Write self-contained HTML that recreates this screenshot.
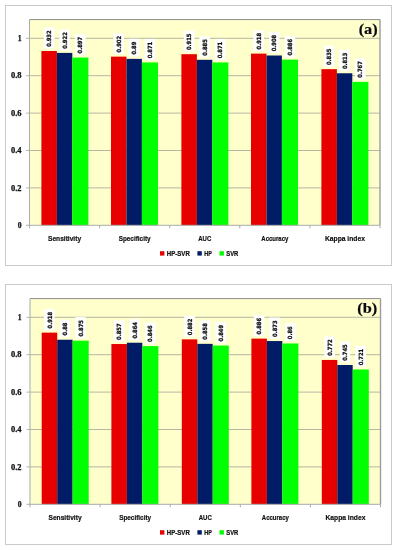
<!DOCTYPE html>
<html><head><meta charset="utf-8"><title>Chart</title>
<style>
html,body{margin:0;padding:0;background:#fff;width:397px;height:550px;overflow:hidden}
svg{display:block}
text{font-family:"Liberation Sans",Arial,sans-serif;font-weight:bold;fill:#111111}
.yl{font-family:"Liberation Serif",serif;font-size:7.7px;text-anchor:end;stroke:#111111;stroke-width:0.25px}
.xl{font-size:7.6px;text-anchor:middle;stroke:#111111;stroke-width:0.2px}
.lg{font-size:6.5px;stroke:#111111;stroke-width:0.22px}
.dl{font-family:"DejaVu Sans",sans-serif;font-stretch:condensed;font-size:5.8px;text-anchor:middle;stroke:#111111;stroke-width:0.28px}
.tag{font-family:"Liberation Serif","Times New Roman",serif;font-size:15px;fill:#0a0a14;stroke:#0a0a14;stroke-width:0.2px}
</style></head><body>
<svg width="397" height="550" viewBox="0 0 397 550">
<rect width="397" height="550" fill="#fff"/>
<rect x="5.5" y="5.5" width="386" height="260" fill="#fff" stroke="#cacaca" stroke-width="1"/>
<g transform="translate(0,0)">
<rect x="29.5" y="19.60" width="350.5" height="205.70" fill="#ffffcc"/>
<line x1="26" y1="187.90" x2="380.0" y2="187.90" stroke="#9a9a96" stroke-width="1" stroke-opacity="0.72"/>
<line x1="26" y1="150.50" x2="380.0" y2="150.50" stroke="#9a9a96" stroke-width="1" stroke-opacity="0.72"/>
<line x1="26" y1="113.10" x2="380.0" y2="113.10" stroke="#9a9a96" stroke-width="1" stroke-opacity="0.72"/>
<line x1="26" y1="75.70" x2="380.0" y2="75.70" stroke="#9a9a96" stroke-width="1" stroke-opacity="0.72"/>
<line x1="26" y1="38.30" x2="380.0" y2="38.30" stroke="#9a9a96" stroke-width="1" stroke-opacity="0.72"/>
<text x="21.60" y="228.00" class="yl">0</text>
<text x="21.60" y="190.60" class="yl" textLength="10.6" lengthAdjust="spacingAndGlyphs">0.2</text>
<text x="21.60" y="153.20" class="yl" textLength="10.6" lengthAdjust="spacingAndGlyphs">0.4</text>
<text x="21.60" y="115.80" class="yl" textLength="10.6" lengthAdjust="spacingAndGlyphs">0.6</text>
<text x="21.60" y="78.40" class="yl" textLength="10.6" lengthAdjust="spacingAndGlyphs">0.8</text>
<text x="21.60" y="41.00" class="yl">1</text>
<rect x="41.40" y="51.02" width="15.50" height="174.28" fill="#e60000"/>
<rect x="56.90" y="52.89" width="15.40" height="172.41" fill="#001c66"/>
<rect x="72.30" y="57.56" width="16.10" height="167.74" fill="#00ff00"/>
<rect x="111.00" y="56.63" width="15.50" height="168.67" fill="#e60000"/>
<rect x="126.50" y="58.87" width="15.40" height="166.43" fill="#001c66"/>
<rect x="141.90" y="62.42" width="16.10" height="162.88" fill="#00ff00"/>
<rect x="181.40" y="54.19" width="15.50" height="171.11" fill="#e60000"/>
<rect x="196.90" y="59.81" width="15.40" height="165.50" fill="#001c66"/>
<rect x="212.30" y="62.42" width="16.10" height="162.88" fill="#00ff00"/>
<rect x="251.00" y="53.63" width="15.50" height="171.67" fill="#e60000"/>
<rect x="266.50" y="55.50" width="15.40" height="169.80" fill="#001c66"/>
<rect x="281.90" y="59.62" width="16.10" height="165.68" fill="#00ff00"/>
<rect x="321.40" y="69.16" width="15.50" height="156.14" fill="#e60000"/>
<rect x="336.90" y="73.27" width="15.40" height="152.03" fill="#001c66"/>
<rect x="352.30" y="81.87" width="16.10" height="143.43" fill="#00ff00"/>
<rect x="43.85" y="27.52" width="10.6" height="21.00" fill="#fff"/>
<text transform="translate(51.25,38.62) rotate(-90)" class="dl">0.932</text>
<rect x="59.30" y="29.39" width="10.6" height="21.00" fill="#fff"/>
<text transform="translate(66.70,40.49) rotate(-90)" class="dl">0.922</text>
<rect x="75.05" y="34.06" width="10.6" height="21.00" fill="#fff"/>
<text transform="translate(82.45,45.16) rotate(-90)" class="dl">0.897</text>
<rect x="113.45" y="33.13" width="10.6" height="21.00" fill="#fff"/>
<text transform="translate(120.85,44.23) rotate(-90)" class="dl">0.902</text>
<rect x="128.90" y="38.77" width="10.6" height="17.60" fill="#fff"/>
<text transform="translate(136.30,48.17) rotate(-90)" class="dl">0.89</text>
<rect x="144.65" y="38.92" width="10.6" height="21.00" fill="#fff"/>
<text transform="translate(152.05,50.02) rotate(-90)" class="dl">0.871</text>
<rect x="183.85" y="30.69" width="10.6" height="21.00" fill="#fff"/>
<text transform="translate(191.25,41.79) rotate(-90)" class="dl">0.915</text>
<rect x="199.30" y="36.31" width="10.6" height="21.00" fill="#fff"/>
<text transform="translate(206.70,47.41) rotate(-90)" class="dl">0.885</text>
<rect x="215.05" y="38.92" width="10.6" height="21.00" fill="#fff"/>
<text transform="translate(222.45,50.02) rotate(-90)" class="dl">0.871</text>
<rect x="253.45" y="30.13" width="10.6" height="21.00" fill="#fff"/>
<text transform="translate(260.85,41.23) rotate(-90)" class="dl">0.918</text>
<rect x="268.90" y="32.00" width="10.6" height="21.00" fill="#fff"/>
<text transform="translate(276.30,43.10) rotate(-90)" class="dl">0.908</text>
<rect x="284.65" y="36.12" width="10.6" height="21.00" fill="#fff"/>
<text transform="translate(292.05,47.22) rotate(-90)" class="dl">0.886</text>
<rect x="323.85" y="45.66" width="10.6" height="21.00" fill="#fff"/>
<text transform="translate(331.25,56.76) rotate(-90)" class="dl">0.835</text>
<rect x="339.30" y="49.77" width="10.6" height="21.00" fill="#fff"/>
<text transform="translate(346.70,60.87) rotate(-90)" class="dl">0.813</text>
<rect x="355.05" y="58.37" width="10.6" height="21.00" fill="#fff"/>
<text transform="translate(362.45,69.47) rotate(-90)" class="dl">0.767</text>
<line x1="29.5" y1="19.60" x2="380.0" y2="19.60" stroke="#8c8c8c" stroke-width="1"/>
<line x1="380.00" y1="19.60" x2="380.00" y2="225.30" stroke="#9c9c9c" stroke-width="1.4"/>
<line x1="29.5" y1="19.60" x2="29.5" y2="225.80" stroke="#aaaaaa" stroke-width="1"/>
<line x1="26" y1="225.30" x2="380.0" y2="225.30" stroke="#aaaaaa" stroke-width="1"/>
<line x1="29.50" y1="225.30" x2="29.50" y2="228.30" stroke="#aaaaaa" stroke-width="1"/>
<line x1="99.60" y1="225.30" x2="99.60" y2="228.30" stroke="#aaaaaa" stroke-width="1"/>
<line x1="169.70" y1="225.30" x2="169.70" y2="228.30" stroke="#aaaaaa" stroke-width="1"/>
<line x1="239.80" y1="225.30" x2="239.80" y2="228.30" stroke="#aaaaaa" stroke-width="1"/>
<line x1="309.90" y1="225.30" x2="309.90" y2="228.30" stroke="#aaaaaa" stroke-width="1"/>
<line x1="380.00" y1="225.30" x2="380.00" y2="228.30" stroke="#aaaaaa" stroke-width="1"/>
<text x="64.55" y="240.60" class="xl" textLength="33.0" lengthAdjust="spacingAndGlyphs">Sensitivity</text>
<text x="134.65" y="240.60" class="xl" textLength="32.0" lengthAdjust="spacingAndGlyphs">Specificity</text>
<text x="204.75" y="240.60" class="xl" textLength="13.0" lengthAdjust="spacingAndGlyphs">AUC</text>
<text x="274.85" y="240.60" class="xl" textLength="27.0" lengthAdjust="spacingAndGlyphs">Accuracy</text>
<text x="344.95" y="240.60" class="xl" textLength="40.0" lengthAdjust="spacingAndGlyphs">Kappa index</text>
<rect x="160.00" y="251.20" width="4.4" height="4.4" fill="#e60000"/>
<text x="166.80" y="255.55" class="lg" textLength="23.0" lengthAdjust="spacingAndGlyphs">HP-SVR</text>
<rect x="197.40" y="251.20" width="4.4" height="4.4" fill="#001c66"/>
<text x="204.20" y="255.55" class="lg" textLength="7.6" lengthAdjust="spacingAndGlyphs">HP</text>
<rect x="219.50" y="251.20" width="4.4" height="4.4" fill="#00ff00"/>
<text x="226.30" y="255.55" class="lg" textLength="12.0" lengthAdjust="spacingAndGlyphs">SVR</text>
</g>
<text x="358.7" y="33.80" class="tag" textLength="19.0" lengthAdjust="spacingAndGlyphs">(a)</text>
<rect x="5.5" y="284.5" width="386" height="260" fill="#fff" stroke="#cacaca" stroke-width="1"/>
<g transform="translate(0.5,0)">
<rect x="29.5" y="298.60" width="350.5" height="205.70" fill="#ffffcc"/>
<line x1="26" y1="466.90" x2="380.0" y2="466.90" stroke="#9a9a96" stroke-width="1" stroke-opacity="0.72"/>
<line x1="26" y1="429.50" x2="380.0" y2="429.50" stroke="#9a9a96" stroke-width="1" stroke-opacity="0.72"/>
<line x1="26" y1="392.10" x2="380.0" y2="392.10" stroke="#9a9a96" stroke-width="1" stroke-opacity="0.72"/>
<line x1="26" y1="354.70" x2="380.0" y2="354.70" stroke="#9a9a96" stroke-width="1" stroke-opacity="0.72"/>
<line x1="26" y1="317.30" x2="380.0" y2="317.30" stroke="#9a9a96" stroke-width="1" stroke-opacity="0.72"/>
<text x="21.10" y="507.00" class="yl">0</text>
<text x="21.10" y="469.60" class="yl" textLength="10.6" lengthAdjust="spacingAndGlyphs">0.2</text>
<text x="21.10" y="432.20" class="yl" textLength="10.6" lengthAdjust="spacingAndGlyphs">0.4</text>
<text x="21.10" y="394.80" class="yl" textLength="10.6" lengthAdjust="spacingAndGlyphs">0.6</text>
<text x="21.10" y="357.40" class="yl" textLength="10.6" lengthAdjust="spacingAndGlyphs">0.8</text>
<text x="21.10" y="320.00" class="yl">1</text>
<rect x="41.20" y="332.63" width="15.50" height="171.67" fill="#e60000"/>
<rect x="56.70" y="339.74" width="15.40" height="164.56" fill="#001c66"/>
<rect x="72.10" y="340.68" width="16.10" height="163.62" fill="#00ff00"/>
<rect x="110.90" y="344.04" width="15.50" height="160.26" fill="#e60000"/>
<rect x="126.40" y="342.73" width="15.40" height="161.57" fill="#001c66"/>
<rect x="141.80" y="346.10" width="16.10" height="158.20" fill="#00ff00"/>
<rect x="181.30" y="339.37" width="15.50" height="164.93" fill="#e60000"/>
<rect x="196.80" y="343.85" width="15.40" height="160.45" fill="#001c66"/>
<rect x="212.20" y="345.54" width="16.10" height="158.76" fill="#00ff00"/>
<rect x="250.90" y="338.62" width="15.50" height="165.68" fill="#e60000"/>
<rect x="266.40" y="341.05" width="15.40" height="163.25" fill="#001c66"/>
<rect x="281.80" y="343.48" width="16.10" height="160.82" fill="#00ff00"/>
<rect x="321.30" y="359.94" width="15.50" height="144.36" fill="#e60000"/>
<rect x="336.80" y="364.99" width="15.40" height="139.31" fill="#001c66"/>
<rect x="352.20" y="369.47" width="16.10" height="134.83" fill="#00ff00"/>
<rect x="43.65" y="309.13" width="10.6" height="21.00" fill="#fff"/>
<text transform="translate(51.05,320.23) rotate(-90)" class="dl">0.918</text>
<rect x="59.10" y="319.64" width="10.6" height="17.60" fill="#fff"/>
<text transform="translate(66.50,329.04) rotate(-90)" class="dl">0.88</text>
<rect x="74.85" y="317.18" width="10.6" height="21.00" fill="#fff"/>
<text transform="translate(82.25,328.28) rotate(-90)" class="dl">0.875</text>
<rect x="113.35" y="320.54" width="10.6" height="21.00" fill="#fff"/>
<text transform="translate(120.75,331.64) rotate(-90)" class="dl">0.857</text>
<rect x="128.80" y="319.23" width="10.6" height="21.00" fill="#fff"/>
<text transform="translate(136.20,330.33) rotate(-90)" class="dl">0.864</text>
<rect x="144.55" y="322.60" width="10.6" height="21.00" fill="#fff"/>
<text transform="translate(151.95,333.70) rotate(-90)" class="dl">0.846</text>
<rect x="183.75" y="315.87" width="10.6" height="21.00" fill="#fff"/>
<text transform="translate(191.15,326.97) rotate(-90)" class="dl">0.882</text>
<rect x="199.20" y="320.35" width="10.6" height="21.00" fill="#fff"/>
<text transform="translate(206.60,331.45) rotate(-90)" class="dl">0.858</text>
<rect x="214.95" y="322.04" width="10.6" height="21.00" fill="#fff"/>
<text transform="translate(222.35,333.14) rotate(-90)" class="dl">0.849</text>
<rect x="253.35" y="315.12" width="10.6" height="21.00" fill="#fff"/>
<text transform="translate(260.75,326.22) rotate(-90)" class="dl">0.886</text>
<rect x="268.80" y="317.55" width="10.6" height="21.00" fill="#fff"/>
<text transform="translate(276.20,328.65) rotate(-90)" class="dl">0.873</text>
<rect x="284.55" y="323.38" width="10.6" height="17.60" fill="#fff"/>
<text transform="translate(291.95,332.78) rotate(-90)" class="dl">0.86</text>
<rect x="323.75" y="336.44" width="10.6" height="21.00" fill="#fff"/>
<text transform="translate(331.15,347.54) rotate(-90)" class="dl">0.772</text>
<rect x="339.20" y="341.49" width="10.6" height="21.00" fill="#fff"/>
<text transform="translate(346.60,352.59) rotate(-90)" class="dl">0.745</text>
<rect x="354.95" y="345.97" width="10.6" height="21.00" fill="#fff"/>
<text transform="translate(362.35,357.07) rotate(-90)" class="dl">0.721</text>
<line x1="29.5" y1="298.60" x2="380.0" y2="298.60" stroke="#8c8c8c" stroke-width="1"/>
<line x1="380.00" y1="298.60" x2="380.00" y2="504.30" stroke="#9c9c9c" stroke-width="1.4"/>
<line x1="29.5" y1="298.60" x2="29.5" y2="504.80" stroke="#aaaaaa" stroke-width="1"/>
<line x1="26" y1="504.30" x2="380.0" y2="504.30" stroke="#aaaaaa" stroke-width="1"/>
<line x1="29.50" y1="504.30" x2="29.50" y2="507.30" stroke="#aaaaaa" stroke-width="1"/>
<line x1="99.60" y1="504.30" x2="99.60" y2="507.30" stroke="#aaaaaa" stroke-width="1"/>
<line x1="169.70" y1="504.30" x2="169.70" y2="507.30" stroke="#aaaaaa" stroke-width="1"/>
<line x1="239.80" y1="504.30" x2="239.80" y2="507.30" stroke="#aaaaaa" stroke-width="1"/>
<line x1="309.90" y1="504.30" x2="309.90" y2="507.30" stroke="#aaaaaa" stroke-width="1"/>
<line x1="380.00" y1="504.30" x2="380.00" y2="507.30" stroke="#aaaaaa" stroke-width="1"/>
<text x="64.55" y="519.60" class="xl" textLength="33.0" lengthAdjust="spacingAndGlyphs">Sensitivity</text>
<text x="134.65" y="519.60" class="xl" textLength="32.0" lengthAdjust="spacingAndGlyphs">Specificity</text>
<text x="204.75" y="519.60" class="xl" textLength="13.0" lengthAdjust="spacingAndGlyphs">AUC</text>
<text x="274.85" y="519.60" class="xl" textLength="27.0" lengthAdjust="spacingAndGlyphs">Accuracy</text>
<text x="344.95" y="519.60" class="xl" textLength="40.0" lengthAdjust="spacingAndGlyphs">Kappa index</text>
<rect x="159.50" y="530.20" width="4.4" height="4.4" fill="#e60000"/>
<text x="166.30" y="534.55" class="lg" textLength="23.0" lengthAdjust="spacingAndGlyphs">HP-SVR</text>
<rect x="196.90" y="530.20" width="4.4" height="4.4" fill="#001c66"/>
<text x="203.70" y="534.55" class="lg" textLength="7.6" lengthAdjust="spacingAndGlyphs">HP</text>
<rect x="219.00" y="530.20" width="4.4" height="4.4" fill="#00ff00"/>
<text x="225.80" y="534.55" class="lg" textLength="12.0" lengthAdjust="spacingAndGlyphs">SVR</text>
</g>
<text x="357.3" y="312.80" class="tag" textLength="20.0" lengthAdjust="spacingAndGlyphs">(b)</text>
</svg>
</body></html>
